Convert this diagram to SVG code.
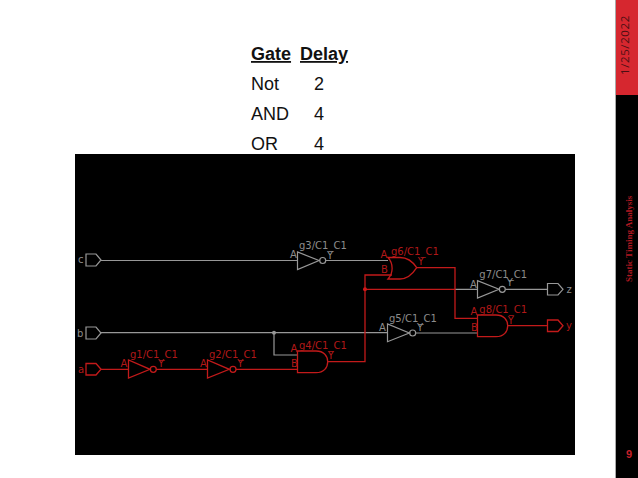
<svg xmlns="http://www.w3.org/2000/svg" width="638" height="478" viewBox="0 0 638 478">
<style>
.t{font-family:"Liberation Sans",Arial,sans-serif;font-size:18px;fill:#111}
.u{font-weight:bold;text-decoration:underline}
.l{font-family:"DejaVu Sans",sans-serif;font-size:10px}
.g{stroke:#989898;fill:none;stroke-width:1.200}
.r{stroke:#c21a1a;fill:none;stroke-width:1.300}
.gt{fill:#8c8c8c}
.rt{fill:#b01818}
</style>
<rect width="638" height="478" fill="#fff"/>
<g id="sidebar">
<rect x="616" width="22" height="478" fill="#000"/>
<rect x="615" width="1" height="478" fill="#aaa"/>
<rect x="616" width="22" height="95" fill="#d6272f"/>
<text transform="translate(628.500,75) rotate(-90)" font-family="'Open Sans','Liberation Sans',sans-serif" font-size="11.500" letter-spacing=".6" fill="#4a0f13">1/25/2022</text>
<text transform="translate(632,282) rotate(-90)" font-family="'Liberation Serif',serif" font-size="9" font-weight="bold" fill="#b01820">Static Timing Analysis</text>
<text x="629" y="458" text-anchor="middle" font-family="'Liberation Sans',sans-serif" font-size="11" font-weight="bold" fill="#c8202a">9</text>
</g>
<g id="table">
<text class="t u" x="251" y="60">Gate</text>
<text class="t u" x="300" y="60">Delay</text>
<text class="t" x="251" y="90">Not</text>
<text class="t" x="314" y="90">2</text>
<text class="t" x="251" y="120">AND</text>
<text class="t" x="314" y="120">4</text>
<text class="t" x="251" y="150">OR</text>
<text class="t" x="314" y="150">4</text>
</g>
<rect id="schematic" x="75" y="154" width="500" height="301" fill="#000"/>
<g id="connectors">
<path class="g" d="M101 260.500H297.500M326 260.500H388"/>
<path class="g" d="M101 332.700H387.500M416 333H477.500M274 332.700V355H297.500"/>
<path class="g" d="M455 289.300H477.500M505.500 289.300H547.500"/>
<path class="r" d="M101 369.300H128.500M156.500 369.300H207.500M236 369.300H297.500"/>
<path class="r" d="M327.500 361.700H365V275H392"/>
<path class="r" d="M365 289.300H455"/>
<path class="r" d="M416.500 267.700H455V318.300H477.500"/>
<path class="r" stroke-width="1.800" d="M507.500 325.700H547.500"/>
<circle cx="274" cy="332.700" r="2" fill="#989898"/>
<circle cx="365" cy="289.300" r="2" fill="#d01818"/>
</g>
<g id="c"><path class="g" d="M86 254H96L101 260L96 266H86Z"/><text class="l gt" x="78" y="263">c</text></g>
<g id="b"><path class="g" d="M86 327H96L101 333L96 339H86Z"/><text class="l gt" x="77" y="336.500">b</text></g>
<g id="a"><path class="r" d="M86 363.500H96L101 369.300L96 375H86Z"/><text class="l rt" x="78" y="373">a</text></g>
<g id="z"><path class="g" d="M547.500 283.500H558L563 289.300L558 295H547.500Z"/><text class="l gt" x="566.500" y="293">z</text></g>
<g id="y"><path class="r" d="M547.500 320H558L563 325.700L558 331.500H547.500Z"/><text class="l rt" x="566" y="329">y</text></g>
<g id="g1"><path class="r" d="M128.500 360V378L150 369.300Z"/><circle class="r" cx="153.300" cy="369.300" r="3"/><text class="l rt" x="130" y="358">g1/C1_C1</text><text class="l rt" x="120.500" y="367">A</text><text class="l rt" x="158" y="366.500">Y</text></g>
<g id="g2"><path class="r" d="M207.500 360V378L229.300 369.300Z"/><circle class="r" cx="233" cy="369.300" r="3"/><text class="l rt" x="209" y="358">g2/C1_C1</text><text class="l rt" x="200" y="367">A</text><text class="l rt" x="237.300" y="366.500">Y</text></g>
<g id="g3"><path class="g" d="M297.500 252V269.500L319 260.500Z"/><circle class="g" cx="322.700" cy="260.500" r="3"/><text class="l gt" x="299" y="248.500">g3/C1_C1</text><text class="l gt" x="290" y="258">A</text><text class="l gt" x="327" y="258.500">Y</text></g>
<g id="g4"><path class="r" d="M297.500 351H316C324 351 327.700 356 327.700 361.700C327.700 367.500 324 372.700 316 372.700H297.500Z"/><text class="l rt" x="299" y="349">g4/C1_C1</text><text class="l rt" x="290.500" y="352">A</text><text class="l rt" x="291" y="367">B</text><text class="l rt" x="327.700" y="358.500">Y</text></g>
<g id="g5"><path class="g" d="M387.500 324V341.700L409.300 333Z"/><circle class="g" cx="412.700" cy="333" r="3"/><text class="l gt" x="389" y="321.500">g5/C1_C1</text><text class="l gt" x="379" y="331">A</text><text class="l gt" x="417" y="331">Y</text></g>
<g id="g6"><path class="r" d="M388 257.500H400C408 257.500 413 262 416.700 267.700C413 273.500 408 279 400 279H388C393.500 273 393.500 263.500 388 257.500Z"/><text class="l rt" x="391" y="255">g6/C1_C1</text><text class="l rt" x="380.500" y="257.500">A</text><text class="l rt" x="381" y="272.500">B</text><text class="l rt" x="417.700" y="264.500">Y</text></g>
<g id="g7"><path class="g" d="M477.500 280.700V298L499 289.300Z"/><circle class="g" cx="502.300" cy="289.300" r="3"/><text class="l gt" x="479.300" y="278">g7/C1_C1</text><text class="l gt" x="470" y="287.500">A</text><text class="l gt" x="506.700" y="286">Y</text></g>
<g id="g8"><path class="r" d="M477.500 315H496C504 315 507.700 320 507.700 325.700C507.700 331.500 504 336.700 496 336.700H477.500Z"/><text class="l rt" x="479.300" y="312.500">g8/C1_C1</text><text class="l rt" x="470.500" y="315">A</text><text class="l rt" x="471" y="330.500">B</text><text class="l rt" x="507.700" y="323.500">Y</text></g>
</svg>
